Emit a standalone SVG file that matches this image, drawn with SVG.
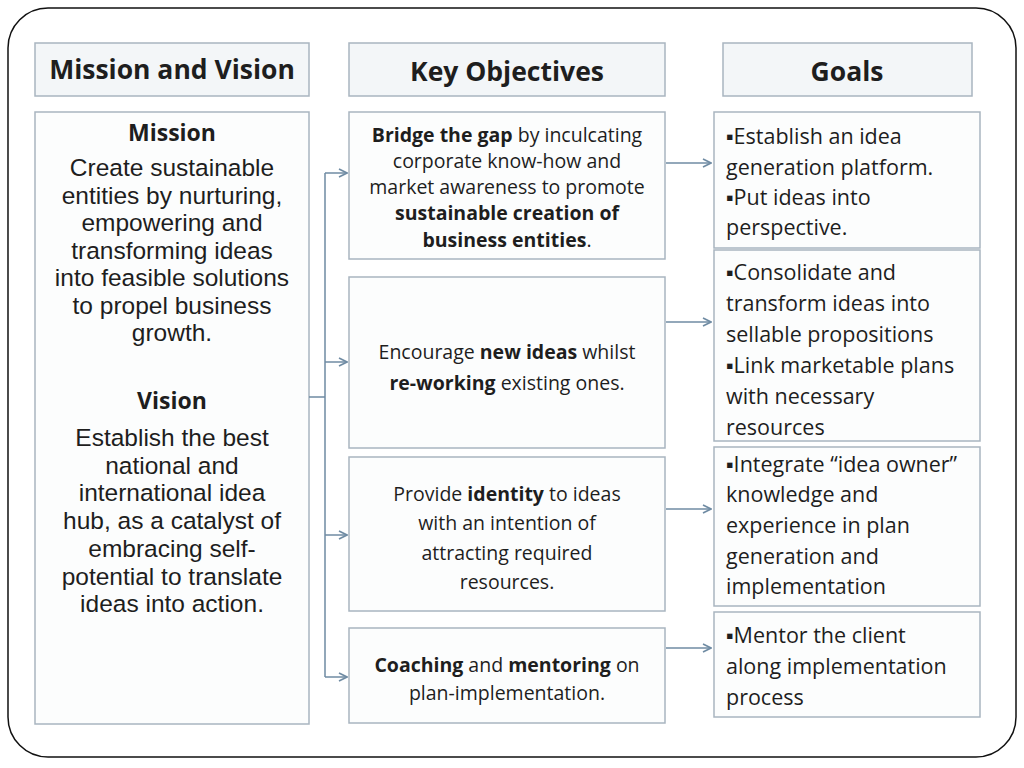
<svg xmlns="http://www.w3.org/2000/svg" width="1024" height="768" viewBox="0 0 1024 768">
<defs>
<style>
text{font-family:"Open Sans","Liberation Sans",sans-serif;fill:#1e1e1e}
.hdr{fill:#f3f6f8;stroke:#a9b5c0;stroke-width:1.5}
.box{fill:#fcfdfd;stroke:#a9b5c0;stroke-width:1.5}
.ht{font-size:26.5px;font-weight:bold;text-anchor:middle}
.mt{font-family:"Liberation Sans",Arial,sans-serif;font-size:24.5px;text-anchor:middle}
.mtb{font-size:23px;font-weight:bold;text-anchor:middle}
.kt{font-size:19.5px;text-anchor:middle}
.gt{font-size:21.5px}
.b{font-weight:bold}
.con{fill:none;stroke:#6f8ba3;stroke-width:1.5}
</style>
<marker id="arr" viewBox="0 0 10 10" refX="9" refY="5" markerWidth="10" markerHeight="10" markerUnits="userSpaceOnUse" orient="auto">
<path d="M1,1 L9,5 L1,9" fill="none" stroke="#6f8ba3" stroke-width="1.6"/>
</marker>
</defs>
<rect x="0" y="0" width="1024" height="768" fill="#ffffff"/>
<rect x="8" y="8" width="1008" height="749" rx="40" ry="40" fill="none" stroke="#111" stroke-width="1.5"/>

<g id="hdr-mission">
<rect class="hdr" x="35" y="43" width="274" height="53"/>
<text class="ht" x="172" y="79">Mission and Vision</text>
</g>
<g id="hdr-objectives">
<rect class="hdr" x="349" y="43" width="316" height="53"/>
<text class="ht" x="507" y="81">Key Objectives</text>
</g>
<g id="hdr-goals">
<rect class="hdr" x="723" y="43" width="249" height="53"/>
<text class="ht" x="847" y="81">Goals</text>
</g>

<g id="mission-vision">
<rect class="box" x="35" y="112" width="274" height="612"/>
<text class="mtb" x="172" y="141">Mission</text>
<text class="mt" x="172" y="176"><tspan x="172">Create sustainable</tspan><tspan x="172" dy="27.5">entities by nurturing,</tspan><tspan x="172" dy="27.5">empowering and</tspan><tspan x="172" dy="27.5">transforming ideas</tspan><tspan x="172" dy="27.5">into feasible solutions</tspan><tspan x="172" dy="27.5">to propel business</tspan><tspan x="172" dy="27.5">growth.</tspan></text>
<text class="mtb" x="172" y="409">Vision</text>
<text class="mt" x="172" y="446"><tspan x="172">Establish the best</tspan><tspan x="172" dy="27.7">national and</tspan><tspan x="172" dy="27.7">international idea</tspan><tspan x="172" dy="27.7">hub, as a catalyst of</tspan><tspan x="172" dy="27.7">embracing self-</tspan><tspan x="172" dy="27.7">potential to translate</tspan><tspan x="172" dy="27.7">ideas into action.</tspan></text>
</g>

<g id="obj1">
<rect class="box" x="349" y="112" width="316" height="147"/>
<text class="kt" x="507" y="142"><tspan class="b">Bridge the gap</tspan> by inculcating</text>
<text class="kt" x="507" y="168">corporate know-how and</text>
<text class="kt" x="507" y="194">market awareness to promote</text>
<text class="kt" x="507" y="220" font-weight="bold">sustainable creation of</text>
<text class="kt" x="507" y="247"><tspan class="b">business entities</tspan>.</text>
</g>
<g id="obj2">
<rect class="box" x="349" y="277" width="316" height="171"/>
<text class="kt" x="507" y="359">Encourage <tspan class="b">new ideas</tspan> whilst</text>
<text class="kt" x="507" y="390"><tspan class="b">re-working</tspan> existing ones.</text>
</g>
<g id="obj3">
<rect class="box" x="349" y="457" width="316" height="154"/>
<text class="kt" x="507" y="501">Provide <tspan class="b">identity</tspan> to ideas</text>
<text class="kt" x="507" y="530">with an intention of</text>
<text class="kt" x="507" y="560">attracting required</text>
<text class="kt" x="507" y="589">resources.</text>
</g>
<g id="obj4">
<rect class="box" x="349" y="628" width="316" height="95"/>
<text class="kt" x="507" y="672"><tspan class="b">Coaching</tspan> and <tspan class="b">mentoring</tspan> on</text>
<text class="kt" x="507" y="700">plan-implementation.</text>
</g>

<g id="goal1">
<rect class="box" x="714" y="112" width="266" height="136"/>
<text class="gt" x="726" y="144">▪Establish an idea</text>
<text class="gt" x="726" y="175">generation platform.</text>
<text class="gt" x="726" y="205">▪Put ideas into</text>
<text class="gt" x="726" y="235">perspective.</text>
</g>
<g id="goal2">
<rect class="box" x="714" y="250" width="266" height="191"/>
<text class="gt" x="726" y="280">▪Consolidate and</text>
<text class="gt" x="726" y="311">transform ideas into</text>
<text class="gt" x="726" y="342">sellable propositions</text>
<text class="gt" x="726" y="373">▪Link marketable plans</text>
<text class="gt" x="726" y="404">with necessary</text>
<text class="gt" x="726" y="435">resources</text>
</g>
<g id="goal3">
<rect class="box" x="714" y="447" width="266" height="159"/>
<text class="gt" x="726" y="472">▪Integrate “idea owner”</text>
<text class="gt" x="726" y="502">knowledge and</text>
<text class="gt" x="726" y="533">experience in plan</text>
<text class="gt" x="726" y="564">generation and</text>
<text class="gt" x="726" y="594">implementation</text>
</g>
<g id="goal4">
<rect class="box" x="714" y="612" width="266" height="105"/>
<text class="gt" x="726" y="643">▪Mentor the client</text>
<text class="gt" x="726" y="674">along implementation</text>
<text class="gt" x="726" y="705">process</text>
</g>

<g id="connectors">
<path class="con" d="M309,397 H325 M325,173 V677"/>
<path class="con" d="M325,173 H347" marker-end="url(#arr)"/>
<path class="con" d="M325,362 H347" marker-end="url(#arr)"/>
<path class="con" d="M325,535 H347" marker-end="url(#arr)"/>
<path class="con" d="M325,677 H347" marker-end="url(#arr)"/>
<path class="con" d="M666,163 H711" marker-end="url(#arr)"/>
<path class="con" d="M666,322 H711" marker-end="url(#arr)"/>
<path class="con" d="M666,509 H711" marker-end="url(#arr)"/>
<path class="con" d="M666,648 H711" marker-end="url(#arr)"/>
</g>
</svg>
